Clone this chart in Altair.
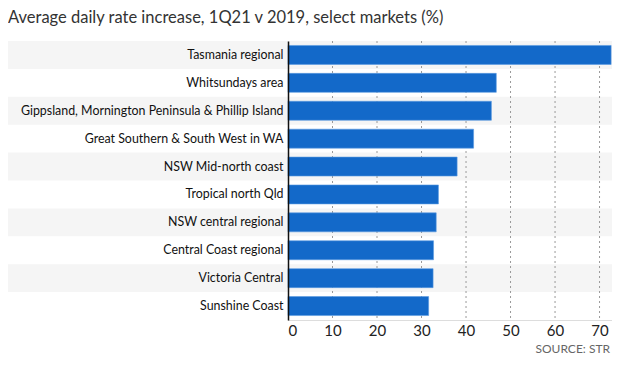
import altair as alt
import pandas as pd

markets = [
    "Tasmania regional",
    "Whitsundays area",
    "Gippsland, Mornington Peninsula & Phillip Island",
    "Great Southern & South West in WA",
    "NSW Mid-north coast",
    "Tropical north Qld",
    "NSW central regional",
    "Central Coast regional",
    "Victoria Central",
    "Sunshine Coast",
]
increase = [72.6, 46.8, 45.7, 41.7, 38.0, 33.8, 33.3, 32.7, 32.6, 31.6]
grid_values = [10, 20, 30, 40, 50, 60, 70]
tick_values = [0, 10, 20, 30, 40, 50, 60, 70]
stripe_rows = markets[0::2]

FONT = "Lato"
W = 324
H = 279

df = pd.DataFrame({"market": markets, "value": increase})
stripes_df = pd.DataFrame({"market": stripe_rows})
grid_df = pd.DataFrame({"g": grid_values})
src_df = pd.DataFrame({"t": ["SOURCE: STR"]})

yenc = alt.Y(
    "market:N",
    sort=markets,
    title=None,
    scale=alt.Scale(paddingInner=0.32, paddingOuter=0.16),
    axis=alt.Axis(
        ticks=False,
        domainColor="#111111",
        domainWidth=1.5,
        labelFont=FONT,
        labelFontSize=12.4,
        labelColor="#111111",
        labelPadding=5,
        labelLimit=400,
        zindex=1,
    ),
)

xscale = alt.Scale(domain=[0, 72.8], nice=False, zero=True)

stripes = alt.Chart(stripes_df).mark_rect(color="#f5f5f5").encode(
    y=alt.Y(
        "market:N",
        scale=alt.Scale(domain=markets, paddingInner=0, paddingOuter=0),
        axis=None,
    ),
    x=alt.value(-280),
    x2=alt.value(W),
)

grid = alt.Chart(grid_df).mark_rule(color="#999999", strokeDash=[2, 3], strokeWidth=1).encode(
    x=alt.X("g:Q", scale=xscale),
    y=alt.value(0),
    y2=alt.value(H),
)

bars = alt.Chart(df).mark_bar(color="#1369c9", stroke="#5b9be0", strokeWidth=0.6).encode(
    y=yenc,
    x=alt.X(
        "value:Q",
        scale=xscale,
        title=None,
        axis=alt.Axis(
            values=tick_values,
            grid=False,
            domain=False,
            ticks=False,
            labelFont=FONT,
            labelFontSize=15,
            labelColor="#222222",
            labelPadding=3,
        ),
    ),
)

source = alt.Chart(src_df).mark_text(
    align="right", baseline="middle", font=FONT, fontSize=12, color="#666666"
).encode(text="t:N", x=alt.value(W - 2), y=alt.value(H + 29))

chart = (
    alt.layer(stripes, grid, bars, source)
    .resolve_scale(y="independent")
    .properties(
        width=W,
        height=H,
        title=alt.TitleParams(
            "Average daily rate increase, 1Q21 v 2019, select markets (%)",
            anchor="start",
            font=FONT,
            fontSize=16.5,
            fontWeight="normal",
            color="#333333",
            offset=14,
        ),
    )
    .configure_view(stroke=None)
    .configure(padding={"left": 0, "top": 2, "right": 0, "bottom": 0})
)

chart.save("out.html", embed_options={"renderer": "svg", "actions": False})
